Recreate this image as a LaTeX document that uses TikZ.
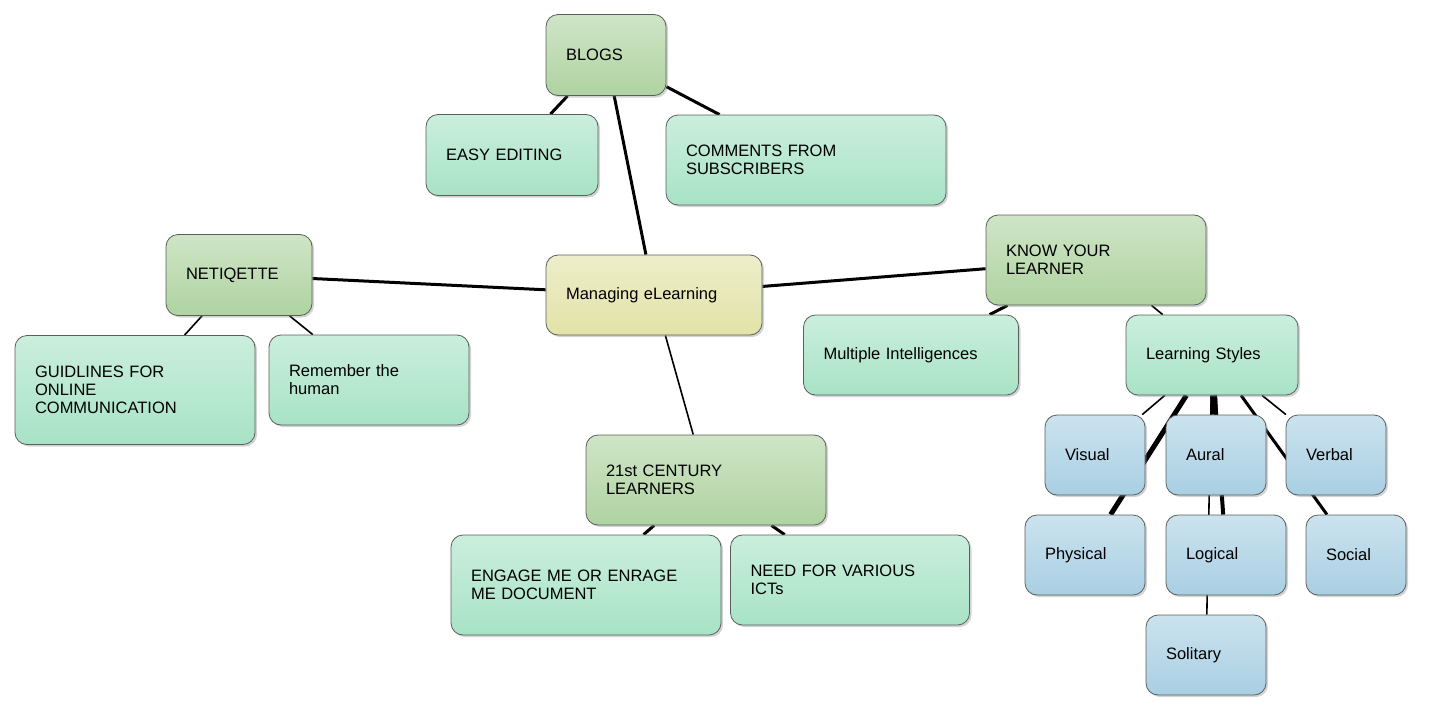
\documentclass[tikz,border=0pt]{standalone}
\usepackage{fontspec}
\setmainfont{Liberation Sans}
\usetikzlibrary{backgrounds,shadows}

\definecolor{olive}{HTML}{AFD3A1}
\definecolor{mint}{HTML}{A8E3C6}
\definecolor{sand}{HTML}{E2E2A8}
\definecolor{sky}{HTML}{A9CFE3}
\definecolor{rim}{HTML}{5A5F5C}

\tikzset{
  box/.style={draw=rim,thick,rounded corners=12pt,align=left,
    font=\fontsize{16.5}{18}\selectfont,inner xsep=20pt,
    drop shadow={shadow xshift=2pt,shadow yshift=-2pt,opacity=.35}},
  topic/.style={box,top color=olive!60!white,bottom color=olive},
  leaf/.style={box,top color=mint!60!white,bottom color=mint},
  hub/.style={box,top color=sand!60!white,bottom color=sand},
  style/.style={box,top color=sky!60!white,bottom color=sky},
  link/.style={line width=3pt},
  fine/.style={line width=1.6pt}
}

\begin{document}
\begin{tikzpicture}[x=1pt,y=-1pt]
  \useasboundingbox (0,0) rectangle (1431,720);

  % centre
  \node[hub,minimum width=216pt,minimum height=80pt,text width=176pt] (main) at (654,295) {Managing eLearning};

  % blogs
  \node[topic,minimum width=120pt,minimum height=81pt,text width=80pt] (blogs) at (606,55) {BLOGS};
  \node[leaf,minimum width=172pt,minimum height=81pt,text width=132pt] (edit) at (512,155) {EASY EDITING};
  \node[leaf,minimum width=280pt,minimum height=90pt,text width=240pt] (comments) at (806,160) {COMMENTS FROM\\SUBSCRIBERS};

  % netiquette
  \node[topic,minimum width=146pt,minimum height=81pt,text width=106pt] (neti) at (239,275) {NETIQETTE};
  \node[leaf,minimum width=240pt,minimum height=109pt,text width=200pt] (guide) at (135,390) {GUIDLINES FOR\\ONLINE\\COMMUNICATION};
  \node[leaf,minimum width=200pt,minimum height=90pt,text width=160pt] (human) at (369,380) {Remember the\\human};

  % learners
  \node[topic,minimum width=240pt,minimum height=90pt,text width=200pt] (century) at (706,480) {21st CENTURY\\LEARNERS};
  \node[leaf,minimum width=270pt,minimum height=100pt,text width=230pt] (engage) at (586,585) {ENGAGE ME OR ENRAGE\\ME DOCUMENT};
  \node[leaf,minimum width=239pt,minimum height=90pt,text width=199pt] (icts) at (850,580) {NEED FOR VARIOUS\\ICTs};

  % know your learner
  \node[topic,minimum width=220pt,minimum height=90pt,text width=180pt] (know) at (1096,260) {KNOW YOUR\\LEARNER};
  \node[leaf,minimum width=215pt,minimum height=80pt,text width=175pt] (multi) at (911,355) {Multiple Intelligences};
  \node[leaf,minimum width=172pt,minimum height=80pt,text width=132pt] (styles) at (1212,355) {Learning Styles};

  % learning styles
  \node[style,minimum width=100pt,minimum height=80pt,text width=60pt] (visual) at (1095,455) {Visual};
  \node[style,minimum width=100pt,minimum height=80pt,text width=60pt] (aural) at (1216,455) {Aural};
  \node[style,minimum width=100pt,minimum height=80pt,text width=60pt] (verbal) at (1336,455) {Verbal};
  \node[style,minimum width=120pt,minimum height=80pt,text width=80pt] (physical) at (1085,555) {Physical};
  \node[style,minimum width=120pt,minimum height=80pt,text width=80pt] (logical) at (1226,555) {Logical};
  \node[style,minimum width=100pt,minimum height=80pt,text width=60pt] (social) at (1356,555) {Social};
  \node[style,minimum width=120pt,minimum height=80pt,text width=80pt] (solitary) at (1206,655) {Solitary};

  % connections
  \begin{scope}[on background layer]
    \draw[link] (main) -- (blogs);
    \draw[link] (main) -- (neti);
    \draw[link] (main) -- (know);
    \draw[fine] (main) -- (century);
    \draw[link] (blogs) -- (edit);
    \draw[link] (blogs) -- (comments);
    \draw[fine] (neti) -- (guide);
    \draw[fine] (neti) -- (human);
    \draw[link] (know) -- (multi);
    \draw[fine] (know) -- (styles);
    \draw[link] (century) -- (engage);
    \draw[link] (century) -- (icts);
    \draw[fine] (styles) -- (visual);
    \draw[line width=5pt] (styles) -- (physical);
    \draw[line width=7pt] (styles) -- (aural);
    \draw[line width=4pt] (styles) -- (logical);
    \draw[fine] (styles) -- (solitary);
    \draw[link] (styles) -- (social);
    \draw[fine] (styles) -- (verbal);
  \end{scope}
\end{tikzpicture}
\end{document}
